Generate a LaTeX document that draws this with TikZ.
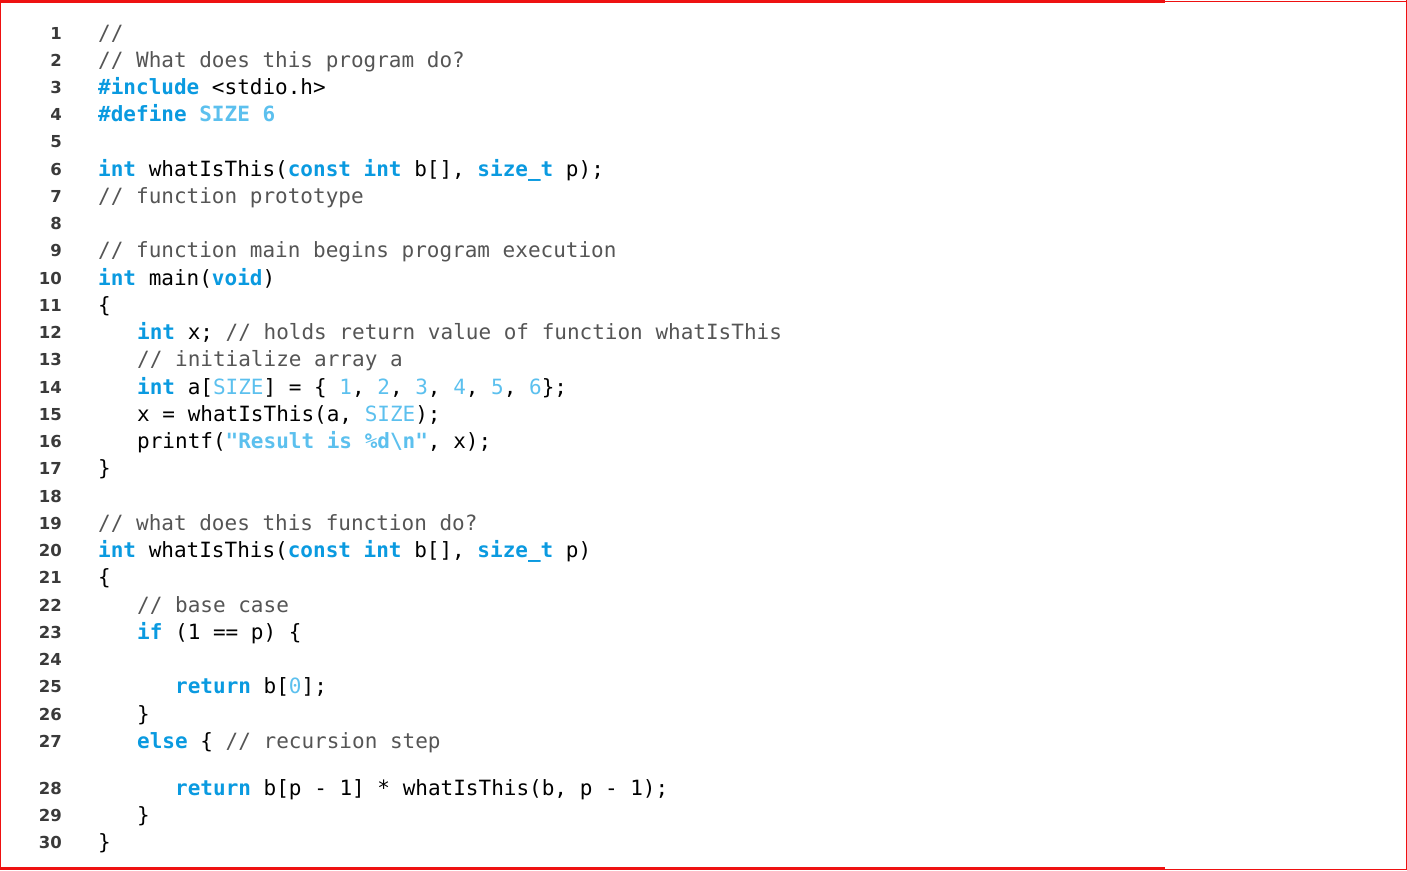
\documentclass[tikz,border=0pt]{standalone}
\usepackage{fontspec}
\setmonofont{DejaVu Sans Mono}
\newfontfamily\numfont{DejaVu Sans}
\definecolor{kwc}{HTML}{0A9AE0}
\definecolor{ctc}{HTML}{5CC0EE}
\definecolor{cmc}{HTML}{555555}
\definecolor{lnc}{HTML}{3A3A3A}
\definecolor{frc}{HTML}{EE1111}
\newcommand{\kw}[1]{\textcolor{kwc}{\bfseries #1}}
\newcommand{\ct}[1]{\textcolor{ctc}{#1}}
\newcommand{\cm}[1]{\textcolor{cmc}{#1}}
\def\ys{{0,33,60,87,114,141,169,196,223,250,278,305,332,359,387,414,441,468,496,523,550,577,605,632,659,686,714,741,788,815,842}}
\newcommand{\codeline}[3]{\pgfmathsetmacro\yy{\ys[#1]+7}\node[code] (l#1) at (#2,\yy) {#3};}
\begin{document}
\begin{tikzpicture}[x=1pt,y=-1pt,
  code/.style={anchor=base west,inner sep=0pt,font=\fontsize{21}{21}\ttfamily},
  lnum/.style={anchor=base east,inner sep=0pt,font=\fontsize{16.5}{16.5}\numfont\bfseries,text=lnc}]
\useasboundingbox (0,0) rectangle (1407,870);
\draw[frc,line width=0.8] (0.5,0) -- (0.5,870);
\draw[frc,line width=0.8] (1406,0) -- (1406,870);
\draw[frc,line width=0.8] (0,1) -- (1407,1);
\draw[frc,line width=0.8] (0,869) -- (1407,869);
\draw[frc,line width=3] (0,1.5) -- (1165,1.5);
\draw[frc,line width=3] (0,868.5) -- (1165,868.5);
\foreach \i in {1,...,30}{
  \pgfmathsetmacro\yy{\ys[\i]+6.5}
  \node[lnum] (n\i) at (62,\yy) {\i};
}
\codeline{1}{98}{\cm{//}}
\codeline{2}{98}{\cm{// What does this program do?}}
\codeline{3}{98}{\kw{\#include} <stdio.h>}
\codeline{4}{98}{\kw{\#define} \ct{\bfseries SIZE 6}}
\codeline{6}{98}{\kw{int} whatIsThis(\kw{const int} b[], \kw{size\_t} p);}
\codeline{7}{98}{\cm{// function prototype}}
\codeline{9}{98}{\cm{// function main begins program execution}}
\codeline{10}{98}{\kw{int} main(\kw{void})}
\codeline{11}{98}{\{}
\codeline{12}{137}{\kw{int} x; \cm{// holds return value of function whatIsThis}}
\codeline{13}{137}{\cm{// initialize array a}}
\codeline{14}{137}{\kw{int} a[\ct{SIZE}] = \{ \ct{1}, \ct{2}, \ct{3}, \ct{4}, \ct{5}, \ct{6}\};}
\codeline{15}{137}{x = whatIsThis(a, \ct{SIZE});}
\codeline{16}{137}{printf(\ct{\bfseries "Result is \%d\textbackslash n"}, x);}
\codeline{17}{98}{\}}
\codeline{19}{98}{\cm{// what does this function do?}}
\codeline{20}{98}{\kw{int} whatIsThis(\kw{const int} b[], \kw{size\_t} p)}
\codeline{21}{98}{\{}
\codeline{22}{137}{\cm{// base case}}
\codeline{23}{137}{\kw{if} (1 == p) \{}
\codeline{25}{175}{\kw{return} b[\ct{0}];}
\codeline{26}{137}{\}}
\codeline{27}{137}{\kw{else} \{ \cm{// recursion step}}
\codeline{28}{175}{\kw{return} b[p - 1] * whatIsThis(b, p - 1);}
\codeline{29}{137}{\}}
\codeline{30}{98}{\}}
\end{tikzpicture}
\end{document}
